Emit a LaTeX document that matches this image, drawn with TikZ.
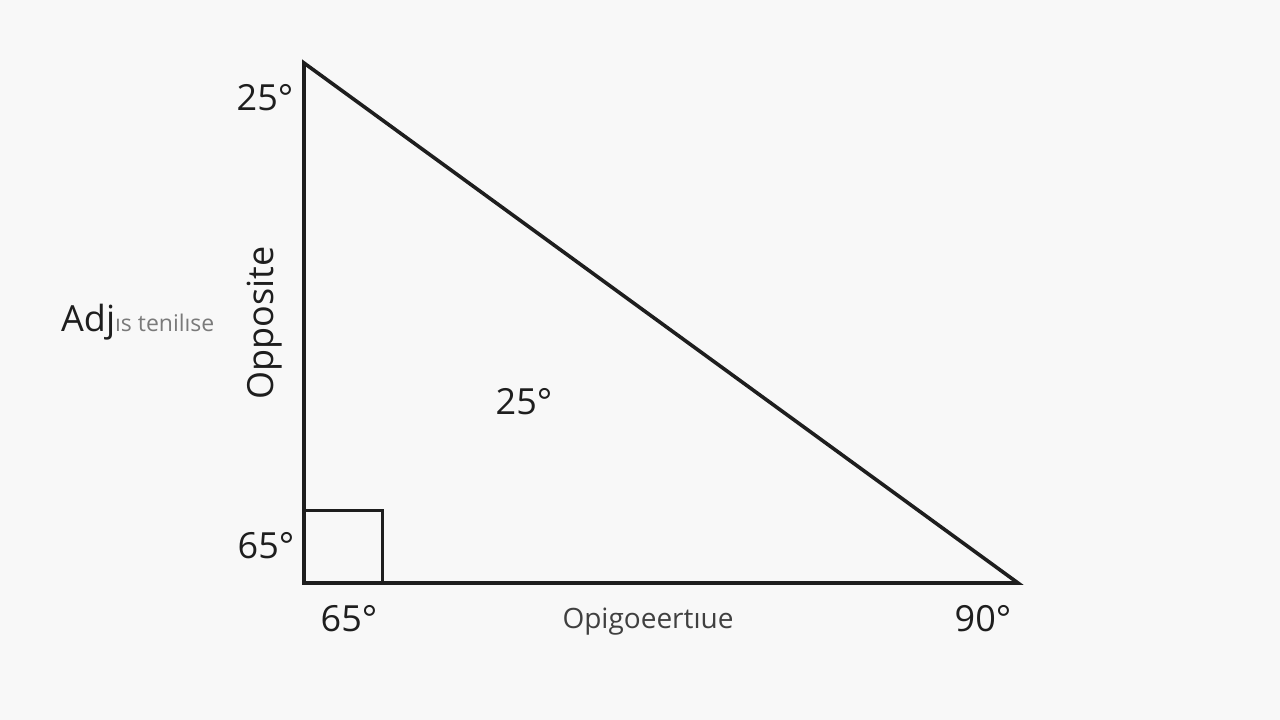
\documentclass[tikz,border=0pt]{standalone}
\usepackage{fontspec}
\setmainfont{Open Sans}
\usetikzlibrary{positioning}
\usetikzlibrary{calc}
\definecolor{bg}{HTML}{F8F8F8}
\definecolor{ink}{HTML}{1E1E1E}
\definecolor{faint}{HTML}{7A7A7A}
\tikzset{
  side/.style={draw=ink,line width=3.6pt,line join=miter},
  lbl/.style={text=ink,inner sep=0pt,font=\fontsize{36}{40}\selectfont},
}

\begin{document}
\begin{tikzpicture}[x=1pt,y=-1pt]
\fill[bg] (0,0) rectangle (1280,720);
\useasboundingbox (0,0) rectangle (1280,720);

\coordinate (top) at (304,63);
\coordinate (corner) at (304,583);
\coordinate (right) at (1018,583);
\coordinate (sqA) at (304,510);
\coordinate (sqB) at (382,510);
\coordinate (sqC) at (382,583);

\draw[side] (top) -- (corner) -- (right) -- cycle;
\draw[side,line width=3pt] (sqA) -- (sqB) -- (sqC);

\node[lbl](angTop) at (265,98){25°};
\node[lbl](angMid) at (524,402){25°};
\node[lbl](angLeft) at (266,546){65°};
\node[lbl](angBot) at (349,619){65°};
\node[lbl](angRight) at (983,619){90°};
\node[lbl,rotate=90](opp) at (265,323){Opposite};
\node[lbl,anchor=west,font=\fontsize{36}{40}\selectfont](adj) at (61,322){Adj\fontsize{23}{26}\selectfont\color{faint}ıs tenilıse};
\node[lbl,font=\fontsize{28}{32}\selectfont,text=ink!85](hyp) at (648,622){Opigoeertıue};
\end{tikzpicture}
\end{document}
